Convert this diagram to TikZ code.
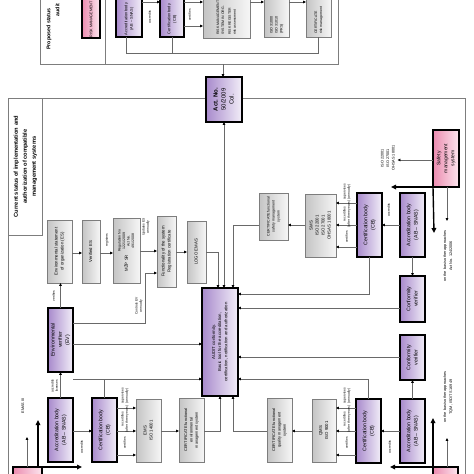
\documentclass[tikz,border=0pt]{standalone}
\usepackage{fontspec}
\setmainfont{Liberation Sans}
\usepackage{graphicx}
\usetikzlibrary{arrows.meta}
\definecolor{pl}{RGB}{168,138,204}
\definecolor{pr}{RGB}{242,238,248}
\definecolor{gl}{RGB}{196,196,196}
\definecolor{gr}{RGB}{246,246,246}
\definecolor{kl}{RGB}{236,140,176}
\definecolor{kr}{RGB}{252,230,238}
\definecolor{ln}{RGB}{105,105,105}
\definecolor{fr}{RGB}{125,125,125}
\newcommand\rt[1]{\rotatebox{90}{\begin{tabular}{@{}c@{}}#1\end{tabular}}}
\newcommand\rl[1]{\rotatebox{90}{\begin{tabular}{@{}l@{}}#1\end{tabular}}}
\newcommand\fs[2]{\fontsize{#1}{#2}\selectfont}
\newcommand\B[7]{\node[#6,minimum width={((#4)-(#2))*1pt},minimum height={((#5)-(#3))*1pt}] (#1) at ({((#2)+(#4))/2},{((#3)+(#5))/2}) {#7};}
\newcommand\Y[1]{\coordinate (y#1) at (0,#1);}
\newcommand\X[1]{\coordinate (x#1) at (#1,0);}
\tikzset{
  base/.style={rectangle,inner sep=0pt,outer sep=0pt},
  pbox/.style={base,draw=black,line width=1.1pt,left color=pl,right color=pr,font=\fs{5.2}{7.2}},
  gbox/.style={base,draw=fr,line width=0.7pt,left color=gl,right color=gr,font=\fs{4.3}{6}},
  kbox/.style={base,draw=black,line width=1.1pt,left color=kl,right color=kr,font=\fs{5}{7}},
  titlebox/.style={base,draw=fr,line width=0.7pt,fill=white,font=\bfseries\fs{5.7}{9}},
  frm/.style={draw=fr,line width=0.7pt},
  lin/.style={draw=ln,line width=0.6pt},
  con/.style={lin,-{Triangle[length=2.8pt,width=2.6pt,color=black]}},
  dcon/.style={lin,{Triangle[length=2.8pt,width=2.6pt,color=black]}-{Triangle[length=2.8pt,width=2.6pt,color=black]}},
  thk/.style={draw=black,line width=1.4pt,-{Triangle[length=5pt,width=4.6pt]}},
  lab/.style={inner sep=0pt,font=\fs{3.3}{4.2}},
  txt/.style={inner sep=0pt,font=\fs{3.9}{5.4}},
}
\begin{document}
\begin{tikzpicture}[x=1pt,y=-1pt]
\useasboundingbox (0,0) rectangle (474,474);
\fill[white] (0,0) rectangle (474,474);
\clip (0,0) rectangle (474,474);
% helper levels
\Y{2}\Y{26}\Y{53}\Y{160}\Y{203}\Y{225}\Y{247}\Y{251}\Y{252}\Y{253}\Y{273}\Y{294}\Y{308}\Y{323}\Y{344}\Y{357}\Y{379}\Y{408}\Y{431}\Y{455}
\X{126}\X{145}\X{218}\X{220}\X{233}
% ---------- top frame (proposed status)
\draw[frm] (40,-10) rectangle (338,64);
\draw[frm] (105,-10) -- (105,64);
\node[inner sep=0pt,font=\bfseries\fs{5.3}{7}] (pt1) at (49,29) {\rotatebox{90}{Proposed status}};
\node[inner sep=0pt,font=\bfseries\fs{5.3}{7}] (pt2) at (57.5,10) {\rotatebox{90}{audit}};
\B{risk}{82}{-40}{100}{38}{kbox}{}
\node[txt,font=\fs{3.7}{5}] (riskt) at (91,19.5) {\rotatebox{90}{RISK MANAGEMENT}};
\B{ab0}{116}{-40}{142}{37}{pbox}{}
\node[txt] (ab0t) at (129,19) {\rt{Accreditation body\\(AB -- SNAS)}};
\B{cb0}{160}{-40}{184}{37}{pbox}{}
\node[txt] (cb0t) at (172,19) {\rt{Certification body\\(CB)}};
\B{rms}{203}{-40}{250}{38}{gbox}{}
\node[txt,anchor=south,font=\fs{3.5}{4.9}] (rmst) at (226.5,35) {\rl{RISK MANAGEMENT\\SYSTEM IN ORG.\\[2pt]RISK REGISTER\\risk assessment}};
\B{iso}{264}{-40}{289}{37}{gbox}{}
\node[txt,anchor=south,font=\fs{3.6}{5}] (isot) at (276.5,34) {\rl{ISO 31000\\ISO 31010\\(PRS)}};
\B{certr}{306}{-40}{331}{37}{gbox}{}
\node[txt,anchor=south,font=\fs{3.5}{5}] (certrt) at (318.5,34) {\rl{CERTIFICATE\\risk management}};
\draw[con] (ab0.east|-y2) -- (cb0.west|-y2);
\draw[con] (cb0.east|-y2) -- (rms.west|-y2);
\draw[con] (cb0.east|-y26) -- (rms.west|-y26);
\draw[con] (rms.east|-y2) -- (iso.west|-y2);
\draw[con] (iso.east|-y2) -- (certr.west|-y2);
\draw[lin] (x126|-ab0.south) -- (x126|-y53) -- (certr.south|-y53) -- (certr.south);
\draw[lin] (cb0.south) -- (cb0.south|-y53);
\node[lab] (l0a) at (150,17) {\rt{accredits}};
\node[lab] (l0b) at (190,15) {\rt{certifies}};
% ---------- Act
\coordinate (fb) at (223,64);
\draw[frm] (8,98) rectangle (465,500);
\B{act}{206}{77}{242}{122}{pbox,font=\fs{6}{8}}{\rt{\textbf{Act. No.}\\50/2009\\Col.}}
\draw[con] (fb) -- (fb|-act.north);
% ---------- lower frame title
\B{title}{8}{98}{42}{235}{titlebox}{\rt{Current status of implementation and\\authorization of compatible\\management systems}}
% ---------- central audit
\B{audit}{202}{288}{238}{396}{pbox,font=\fs{4.3}{6.2}}{\rt{AUDIT conformity.\\Basic tool for the accreditation,\\certification, notification and authorization}}
\draw[dcon] (act.south) -- (act.south|-audit.north);
% ---------- environmental (left)
\B{es}{47}{220}{72}{283}{gbox}{\rt{Environmental statement\\of organization (ES)}}
\B{ves}{82}{220}{100}{283}{gbox}{\rt{Verified ES}}
\B{reg}{113}{218}{140}{283}{gbox}{\rotatebox{90}{M\v{Z}P SR\hspace{3pt}{\fs{3.5}{4.5}\begin{tabular}{@{}c@{}}Regulation No\\1221/2009\\Act No.\\491/2008\end{tabular}}}}
\B{func}{157}{216}{176}{287}{gbox}{\rt{Functionality of the system\\Registration certificate}}
\B{logo}{187}{221}{206}{283}{gbox}{\rt{LOGO EMAS}}
\B{ev}{48}{308}{73}{372}{pbox}{\rt{Environmental\\verifier\\(EV)}}
\B{abl}{48}{398}{73}{462}{pbox}{\rt{Accreditation body\\(AB -- SNAS)}}
\B{cbl}{92}{398}{117}{462}{pbox}{\rt{Certification body\\(CB)}}
\B{ems}{136}{399}{161}{462}{gbox}{\rt{EMS\\ISO 14001}}
\B{certe}{179}{398}{204}{462}{gbox,font=\fs{3.9}{5.4}}{\rt{CERTIFICATE functional\\environmental\\management system}}
\B{emsp}{13}{467}{42}{520}{kbox}{}
\draw[con] (es.east|-y253) -- (ves.west|-y253);
\draw[con] (ves.east|-y253) -- (reg.west|-y253);
\draw[con] (reg.east|-y251) -- (func.west|-y251);
\draw[con] (func.east|-y252) -- (logo.west|-y252);
\draw[con] (logo.east|-y252) -| (x218|-audit.north);
\draw[con] (ev.north) -- (ev.north|-es.south);
\draw[con] (abl.north) -- (abl.north|-ev.south);
\draw[con] (ev.east|-y323) -- (x145|-y323) |- (func.west|-y273);
\draw[con] (ev.east|-y344) -- (audit.west|-y344);
\coordinate (fl) at (73,379);
\draw[con] (fl) -- (audit.west|-y379);
\draw[lin] (cbl.north) -- (cbl.north|-y379);
\draw[con] (abl.east|-y431) -- (cbl.west|-y431);
\draw[con] (cbl.east|-y408) -- (ems.west|-y408);
\draw[con] (cbl.east|-y431) -- (ems.west|-y431);
\draw[con] (cbl.east|-y455) -- (ems.west|-y455);
\draw[con] (ems.east|-y431) -- (certe.west|-y431);
\draw[con] (certe.east|-y431) -| (x220|-audit.south);
\coordinate (et1) at (82,467);
\coordinate (et2) at (38,420);
\coordinate (et3) at (27,437);
\draw[thk] (emsp.north east) -- (et1);
\draw[thk] (emsp.north-|et2) -- (et2);
\draw[con] (emsp.north-|et3) -- (et3);
\node[lab,font=\fs{3.8}{5}] (emas) at (23,406) {\rt{EMAS III}};
\node[lab] (lv) at (54,296) {\rt{verifies}};
\node[lab] (lal) at (55,386) {\rt{accredits\\licenses}};
\node[lab] (lacl) at (82,447) {\rt{accredits}};
\node[lab] (lreg) at (107,240) {\rt{registers}};
\node[lab] (lupd) at (146,227) {\rt{Updates ES\\annually}};
\node[lab] (lctl) at (139,306) {\rt{Controls EV\\annually}};
\node[lab] (ls1) at (125,396) {\rt{supervises\\(annually)}};
\node[lab] (ls2) at (125,419) {\rt{recertifies\\(after three years)}};
\node[lab] (ls3) at (125,443) {\rt{certifies}};
% ---------- quality (bottom right)
\B{certq}{267}{398}{292}{462}{gbox,font=\fs{3.9}{5.4}}{\rt{CERTIFICATE functional\\quality management\\system}}
\B{qms}{312}{399}{336}{462}{gbox}{\rt{QMS\\ISO 9001}}
\B{cbr}{356}{399}{381}{463}{pbox}{\rt{Certification body\\(CB)}}
\B{abr}{400}{399}{425}{463}{pbox}{\rt{Accreditation body\\(AB -- SNAS)}}
\B{cvl}{400}{335}{425}{380}{pbox}{\rt{Conformity\\verifier}}
\B{cvu}{400}{276}{425}{322}{pbox}{\rt{Conformity\\verifier}}
\B{qmsp}{433}{467}{458}{520}{kbox}{}
\draw[con] (qms.west|-y431) -- (certq.east|-y431);
\draw[con] (certq.west|-y431) -| (x233|-audit.south);
\draw[con] (cbr.west|-y408) -- (qms.east|-y408);
\draw[con] (cbr.west|-y431) -- (qms.east|-y431);
\draw[con] (cbr.west|-y455) -- (qms.east|-y455);
\draw[con] (abr.west|-y431) -- (cbr.east|-y431);
\draw[con] (abr.north) -- (abr.north|-cvl.south);
\draw[con] (cvl.west|-y357) -- (audit.east|-y357);
\draw[con] (cvu.west|-y308) -- (audit.east|-y308);
\draw[con] (cbr.north) |- (audit.east|-y379);
\coordinate (qt1) at (390,467);
\coordinate (qt2) at (433,418);
\coordinate (qt3) at (447,438);
\draw[thk] (qmsp.north west) -- (qt1);
\draw[thk] (qmsp.north west) -- (qt2);
\draw[con] (qmsp.north-|qt3) -- (qt3);
\node[lab,font=\fs{3.8}{6}] (lqb) at (448,397) {\rt{on the basis other approaches\\TQM, ISO/TS 16949}};
\node[lab] (lacr) at (390,447) {\rt{accredits}};
\node[lab] (lr1) at (347,396) {\rt{supervises\\(annually)}};
\node[lab] (lr2) at (347,419) {\rt{recertifies\\(after three years)}};
\node[lab] (lr3) at (347,443) {\rt{certifies}};
% ---------- safety (top right)
\B{certs}{259}{193}{288}{240}{gbox,font=\fs{3.6}{5}}{\rt{CERTIFICATE functional\\safety management\\system}}
\B{sms}{305}{194}{336}{257}{gbox}{\rt{SMS\\ISO 22001\\ISO 27001\\OHSAS 18001}}
\B{cbt}{357}{193}{382}{257}{pbox}{\rt{Certification body\\(CB)}}
\B{abt}{400}{193}{425}{257}{pbox}{\rt{Accreditation body\\(AB -- SNAS)}}
\B{safety}{433}{130}{459}{187}{kbox}{\rt{Safety\\management\\system}}
\draw[con] (sms.west|-y225) -- (certs.east|-y225);
\draw[con] (certs.west|-y225) -| (x233|-audit.north);
\draw[con] (cbt.west|-y203) -- (sms.east|-y203);
\draw[con] (cbt.west|-y225) -- (sms.east|-y225);
\draw[con] (cbt.west|-y247) -- (sms.east|-y247);
\draw[con] (abt.west|-y225) -- (cbt.east|-y225);
\draw[con] (abt.south) -- (abt.south|-cvu.north);
\draw[con] (cbt.south) |- (audit.east|-y294);
\node[lab,font=\fs{3.8}{5.6},inner xsep=1pt,inner ysep=4pt] (isos) at (388,158) {\rt{ISO 22001\\ISO 27001\\OHSAS 18001}};
\draw[con] (safety.west|-y160) -- (isos.east|-y160);
\coordinate (st1) at (391,187);
\coordinate (st2) at (434,233);
\coordinate (st3) at (447,221);
\draw[thk] (safety.south west) -- (st1);
\draw[thk] (safety.south west) -- (st2);
\draw[con] (safety.south-|st3) -- (st3);
\node[lab,font=\fs{3.8}{6}] (lsb) at (448,256) {\rt{on the basis other approaches\\Act No. 124/2006}};
\node[lab] (lact) at (389,210) {\rt{accredits}};
\node[lab] (lt1) at (347,192) {\rt{supervises\\(annually)}};
\node[lab] (lt2) at (347,214) {\rt{recertifies\\(after three years)}};
\node[lab] (lt3) at (347,237) {\rt{certifies}};
\end{tikzpicture}
\end{document}
